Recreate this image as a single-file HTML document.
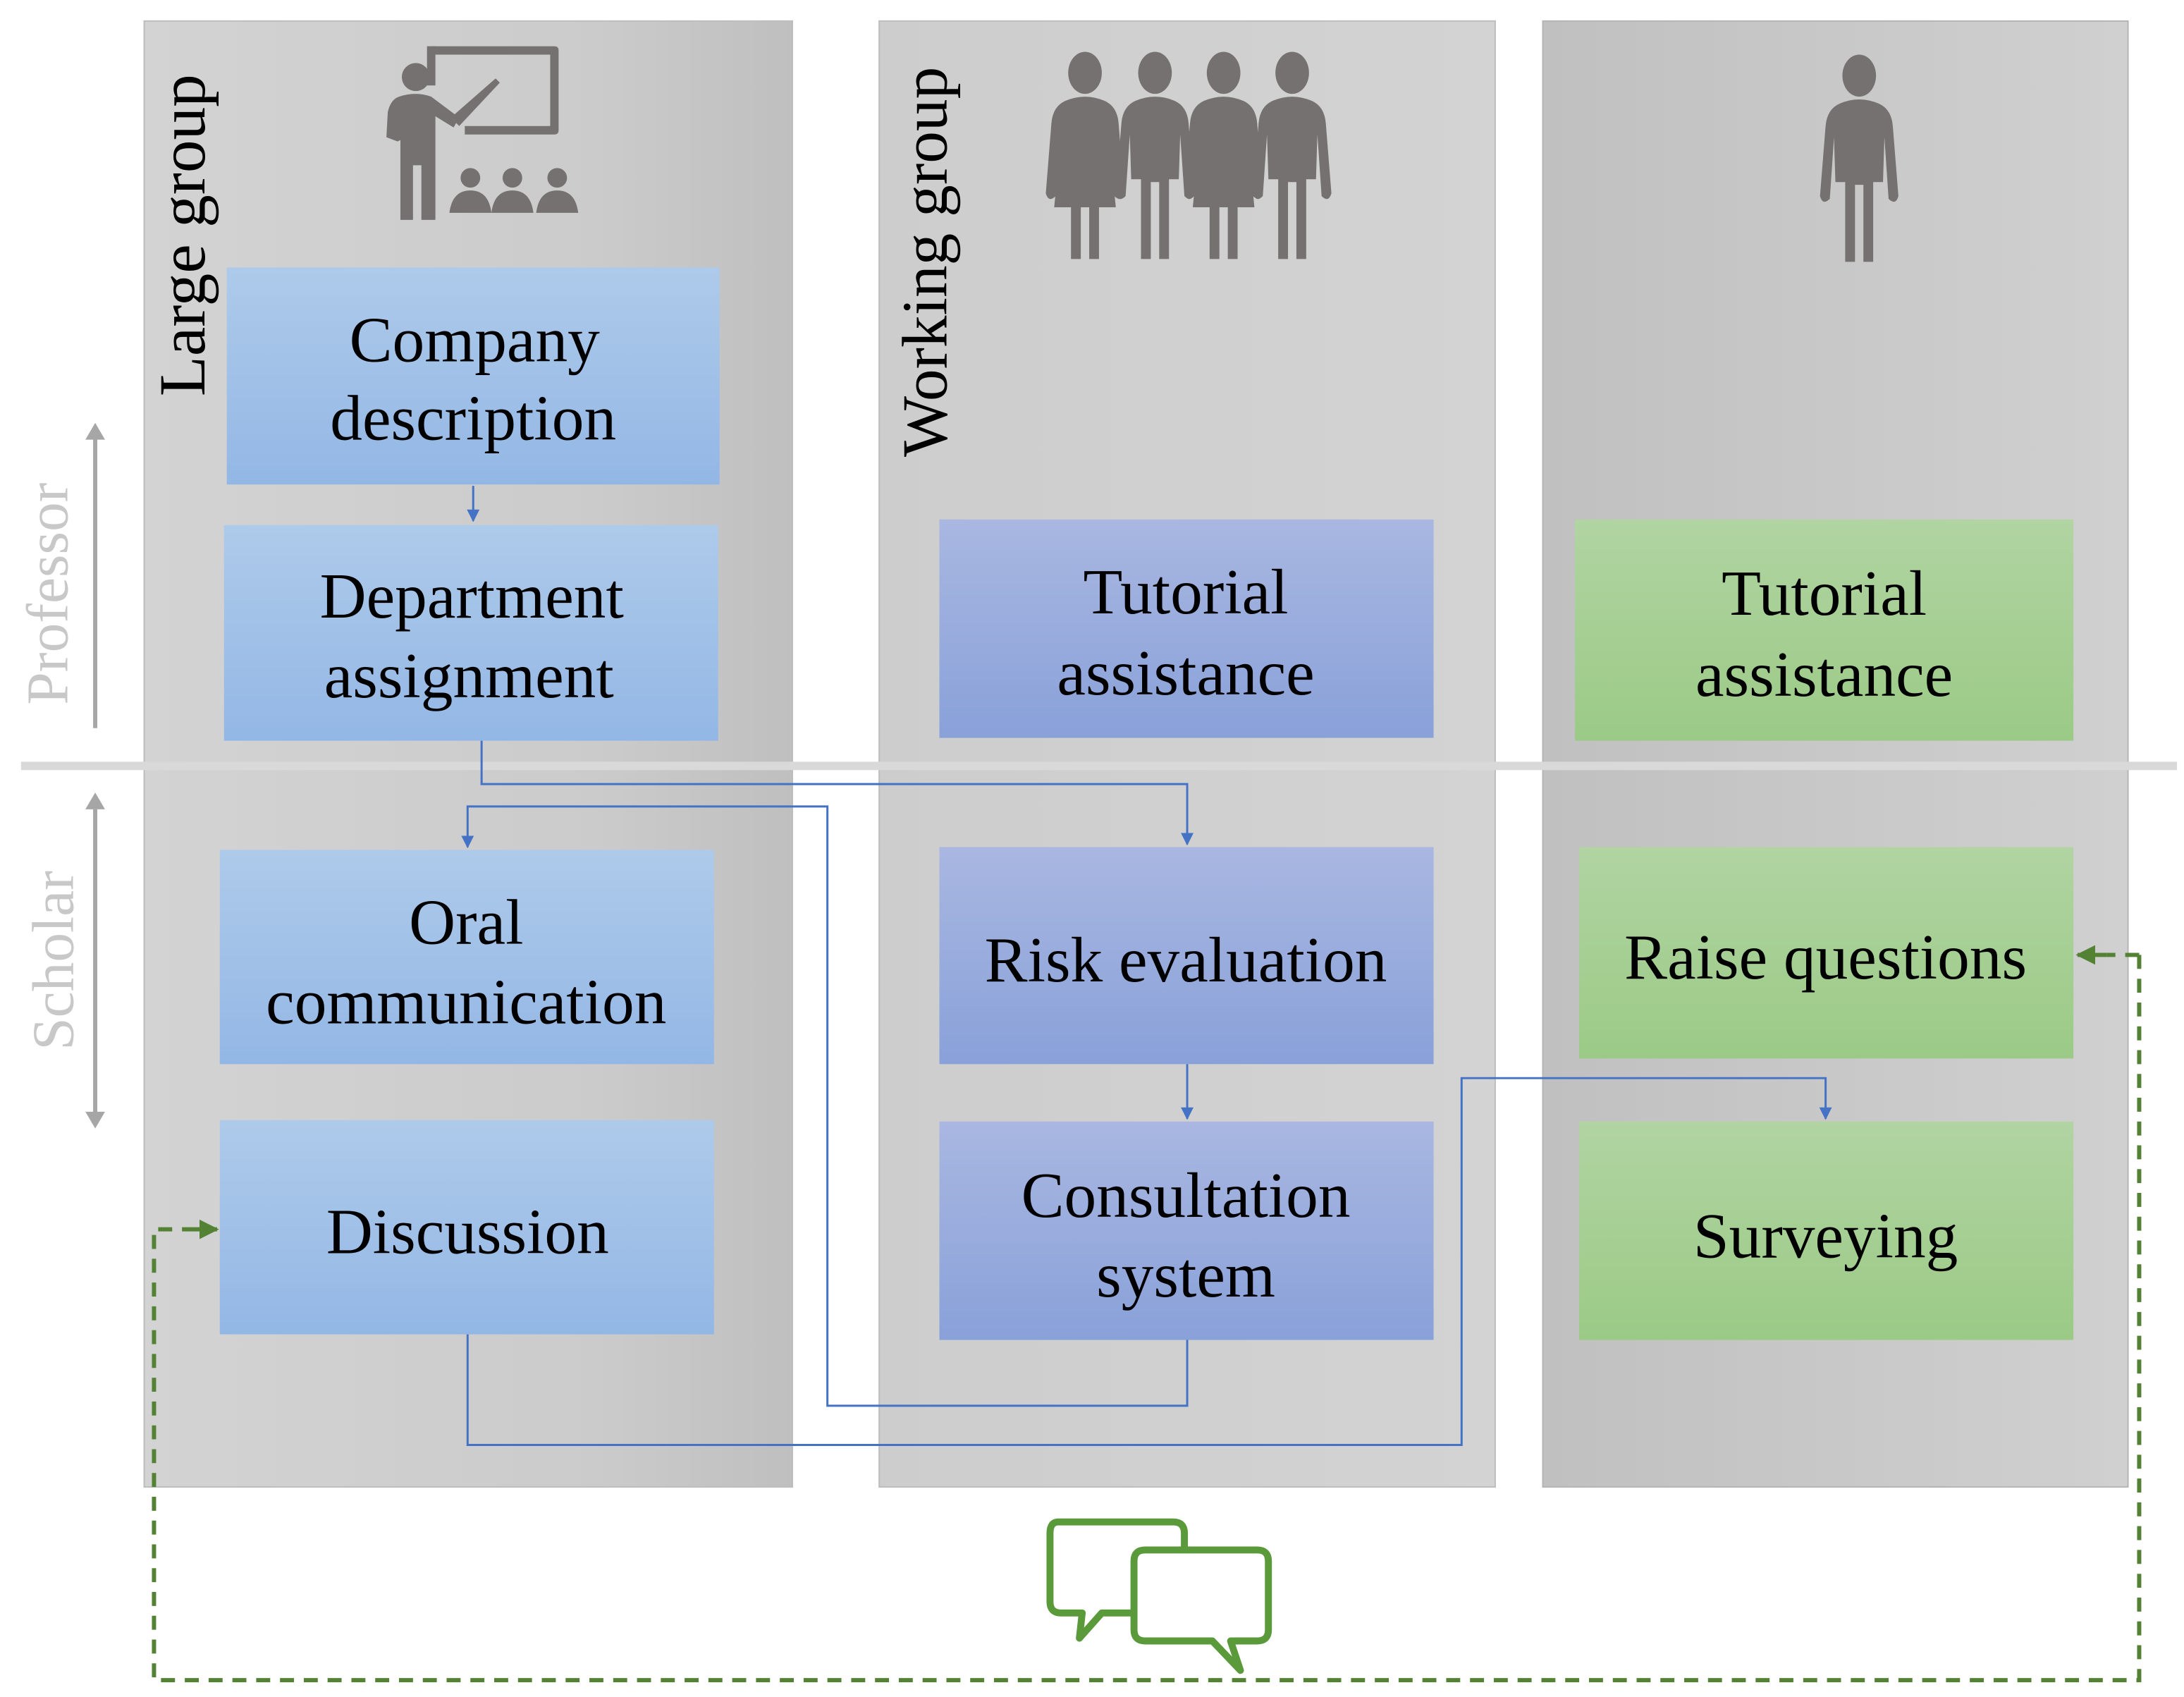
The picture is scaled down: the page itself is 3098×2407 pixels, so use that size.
<!DOCTYPE html>
<html><head><meta charset="utf-8"><style>
html,body{margin:0;padding:0;background:#fff;}
svg{display:block;}
text{font-family:"Liberation Serif",serif;}
</style></head><body>
<svg width="3098" height="2407" viewBox="0 0 1560 1212" xmlns="http://www.w3.org/2000/svg">
<defs>
<linearGradient id="p1" x1="0" x2="1" y1="0" y2="0"><stop offset="0" stop-color="#d3d3d3"/><stop offset="0.7" stop-color="#cbcbcb"/><stop offset="1" stop-color="#bfbfbf"/></linearGradient>
<linearGradient id="p2" x1="0" x2="1" y1="0" y2="0"><stop offset="0" stop-color="#cdcdcd"/><stop offset="1" stop-color="#d3d3d3"/></linearGradient>
<linearGradient id="p3" x1="0" x2="1" y1="0" y2="0"><stop offset="0" stop-color="#c0c0c0"/><stop offset="0.5" stop-color="#c8c8c8"/><stop offset="1" stop-color="#d0d0d0"/></linearGradient>
<linearGradient id="gb" x1="0" x2="0" y1="0" y2="1"><stop offset="0" stop-color="#aecaea"/><stop offset="1" stop-color="#93b7e5"/></linearGradient>
<linearGradient id="gp" x1="0" x2="0" y1="0" y2="1"><stop offset="0" stop-color="#a9b7e1"/><stop offset="1" stop-color="#89a1d9"/></linearGradient>
<linearGradient id="gg" x1="0" x2="0" y1="0" y2="1"><stop offset="0" stop-color="#b1d4a2"/><stop offset="1" stop-color="#9bca86"/></linearGradient>
<marker id="ab" viewBox="0 0 10 10" refX="9" refY="5" markerWidth="9" markerHeight="9" markerUnits="userSpaceOnUse" orient="auto"><path d="M0,0 L10,5 L0,10Z" fill="#4472c4"/></marker>
<marker id="ag" viewBox="0 0 10 10" refX="9" refY="5" markerWidth="14" markerHeight="14" markerUnits="userSpaceOnUse" orient="auto"><path d="M0,0 L10,5 L0,10Z" fill="#548235"/></marker>
<g id="man" fill="#757170"><ellipse cx="0" cy="12" rx="12" ry="15"/><path d="M-14,32 Q0,26 14,32 Q23,36 24,48 L28,98 Q26,105 21,100 L18,56 L17,88 L10,88 L10,145 L3,145 L3,90 L-3,90 L-3,145 L-10,145 L-10,88 L-17,88 L-18,56 L-21,100 Q-26,105 -28,98 L-24,48 Q-23,36 -14,32Z"/></g>
<g id="woman" fill="#757170"><ellipse cx="0" cy="12" rx="12" ry="15"/><path d="M-14,32 Q0,26 14,32 Q23,36 24,48 L28,98 Q26,105 21,100 L17,56 L22,108 L10,108 L10,145 L3,145 L3,108 L-3,108 L-3,145 L-10,145 L-10,108 L-22,108 L-17,56 L-21,100 Q-26,105 -28,98 L-24,48 Q-23,36 -14,32Z"/></g>
</defs>

<rect x="103" y="15" width="463" height="1047" fill="url(#p1)" stroke="#bdbdbd" stroke-width="1"/>
<rect x="628" y="15" width="440" height="1047" fill="url(#p2)" stroke="#bdbdbd" stroke-width="1"/>
<rect x="1102" y="15" width="418" height="1047" fill="url(#p3)" stroke="#b5b5b5" stroke-width="1"/>

<rect x="15" y="544" width="1540" height="6" fill="#d9d9d9"/>

<text transform="translate(48,424) rotate(-90)" font-size="42" fill="#c8c8c8" text-anchor="middle">Professor</text>
<line x1="68" y1="520" x2="68" y2="312" stroke="#a6a6a6" stroke-width="3"/>
<path d="M61,314 L68,302 L75,314Z" fill="#a6a6a6"/>
<text transform="translate(52,686) rotate(-90)" font-size="42" fill="#c8c8c8" text-anchor="middle">Scholar</text>
<line x1="68" y1="578" x2="68" y2="796" stroke="#a6a6a6" stroke-width="3"/>
<path d="M61,578 L68,566 L75,578Z" fill="#a6a6a6"/>
<path d="M61,794 L68,806 L75,794Z" fill="#a6a6a6"/>

<text transform="translate(146,168) rotate(-90)" font-size="47" fill="#000" text-anchor="middle">Large group</text>
<text transform="translate(676,187) rotate(-90)" font-size="46" fill="#000" text-anchor="middle">Working group</text>

<g fill="#757170">
<path d="M308,33 L396,33 Q399,33 399,36 L399,93 Q399,96 396,96 L332,96 L332,90 L393,90 L393,39 L308,39Z"/>
<rect x="305" y="33" width="6" height="28"/>
<path d="M322,84 L354,56 L357,59 L328,90Z"/>
<circle cx="297" cy="55" r="10"/>
<path d="M285,69 Q297,65 308,69 L328,84 L324,91 L311,83 L311,157 L301,157 L301,118 L295,118 L295,157 L286,157 L286,100 L284,101 L276,98 L277,80 Q279,71 285,69Z"/>
<circle cx="336" cy="127" r="7"/><path d="M321,152 Q323,136 336,136 Q349,136 351,152Z"/>
<circle cx="366" cy="127" r="7"/><path d="M351,152 Q353,136 366,136 Q379,136 381,152Z"/>
<circle cx="398" cy="127" r="7"/><path d="M383,152 Q385,136 398,136 Q411,136 413,152Z"/>
</g>

<use href="#woman" x="775" y="40"/>
<use href="#man" x="825" y="40"/>
<use href="#woman" x="874" y="40"/>
<use href="#man" x="923" y="40"/>
<use href="#man" x="1328" y="42"/>

<rect x="162" y="191" width="352" height="155" fill="url(#gb)"/>
<rect x="160" y="375" width="353" height="154" fill="url(#gb)"/>
<rect x="157" y="607" width="353" height="153" fill="url(#gb)"/>
<rect x="157" y="800" width="353" height="153" fill="url(#gb)"/>
<rect x="671" y="371" width="353" height="156" fill="url(#gp)"/>
<rect x="671" y="605" width="353" height="155" fill="url(#gp)"/>
<rect x="671" y="801" width="353" height="156" fill="url(#gp)"/>
<rect x="1125" y="371" width="356" height="158" fill="url(#gg)"/>
<rect x="1128" y="605" width="353" height="151" fill="url(#gg)"/>
<rect x="1128" y="801" width="353" height="156" fill="url(#gg)"/>

<g font-size="46" fill="#000" text-anchor="middle">
<text x="339" y="258">Company</text><text x="338" y="314">description</text>
<text x="337" y="441">Department</text><text x="335" y="498">assignment</text>
<text x="333" y="674">Oral</text><text x="333" y="731">communication</text>
<text x="334" y="895">Discussion</text>
<text x="847" y="438">Tutorial</text><text x="847" y="496">assistance</text>
<text x="847" y="701">Risk evaluation</text>
<text x="847" y="869">Consultation</text><text x="847" y="926">system</text>
<text x="1303" y="439">Tutorial</text><text x="1303" y="497">assistance</text>
<text x="1304" y="699">Raise questions</text>
<text x="1304" y="898">Surveying</text>
</g>

<g fill="none" stroke="#4472c4" stroke-width="1.5">
<path d="M338,347 L338,372" marker-end="url(#ab)"/>
<path d="M344,529 L344,560 L848,560 L848,603" marker-end="url(#ab)"/>
<path d="M848,957 L848,1004 L591,1004 L591,576 L334,576 L334,605" marker-end="url(#ab)"/>
<path d="M334,953 L334,1032 L1044,1032 L1044,770 L1304,770 L1304,799" marker-end="url(#ab)"/>
<path d="M848,760 L848,799" marker-end="url(#ab)"/>
</g>

<g fill="none" stroke="#548235" stroke-width="3" stroke-dasharray="10,7">
<path d="M1528,682 L1528,1200 L110,1200 L110,878 L130,878"/>
<path d="M1528,682 L1505,682"/>
</g>
<path d="M130,878 L155,878" stroke="#548235" stroke-width="3" marker-end="url(#ag)"/>
<path d="M1505,682 L1484,682" stroke="#548235" stroke-width="3" marker-end="url(#ag)"/>

<g fill="none" stroke="#5a9a3a" stroke-width="5" stroke-linejoin="round">
<path d="M846,1107 L846,1095 Q846,1087 838,1087 L756,1087 Q750,1087 750,1095 L750,1144 Q750,1152 758,1152 L773,1152 L771,1170 L787,1152 L810,1152"/>
<path d="M818,1107 L898,1107 Q906,1107 906,1115 L906,1164 Q906,1172 898,1172 L879,1172 L886,1193 L866,1172 L818,1172 Q810,1172 810,1164 L810,1115 Q810,1107 818,1107Z"/>
</g>
</svg>
</body></html>
